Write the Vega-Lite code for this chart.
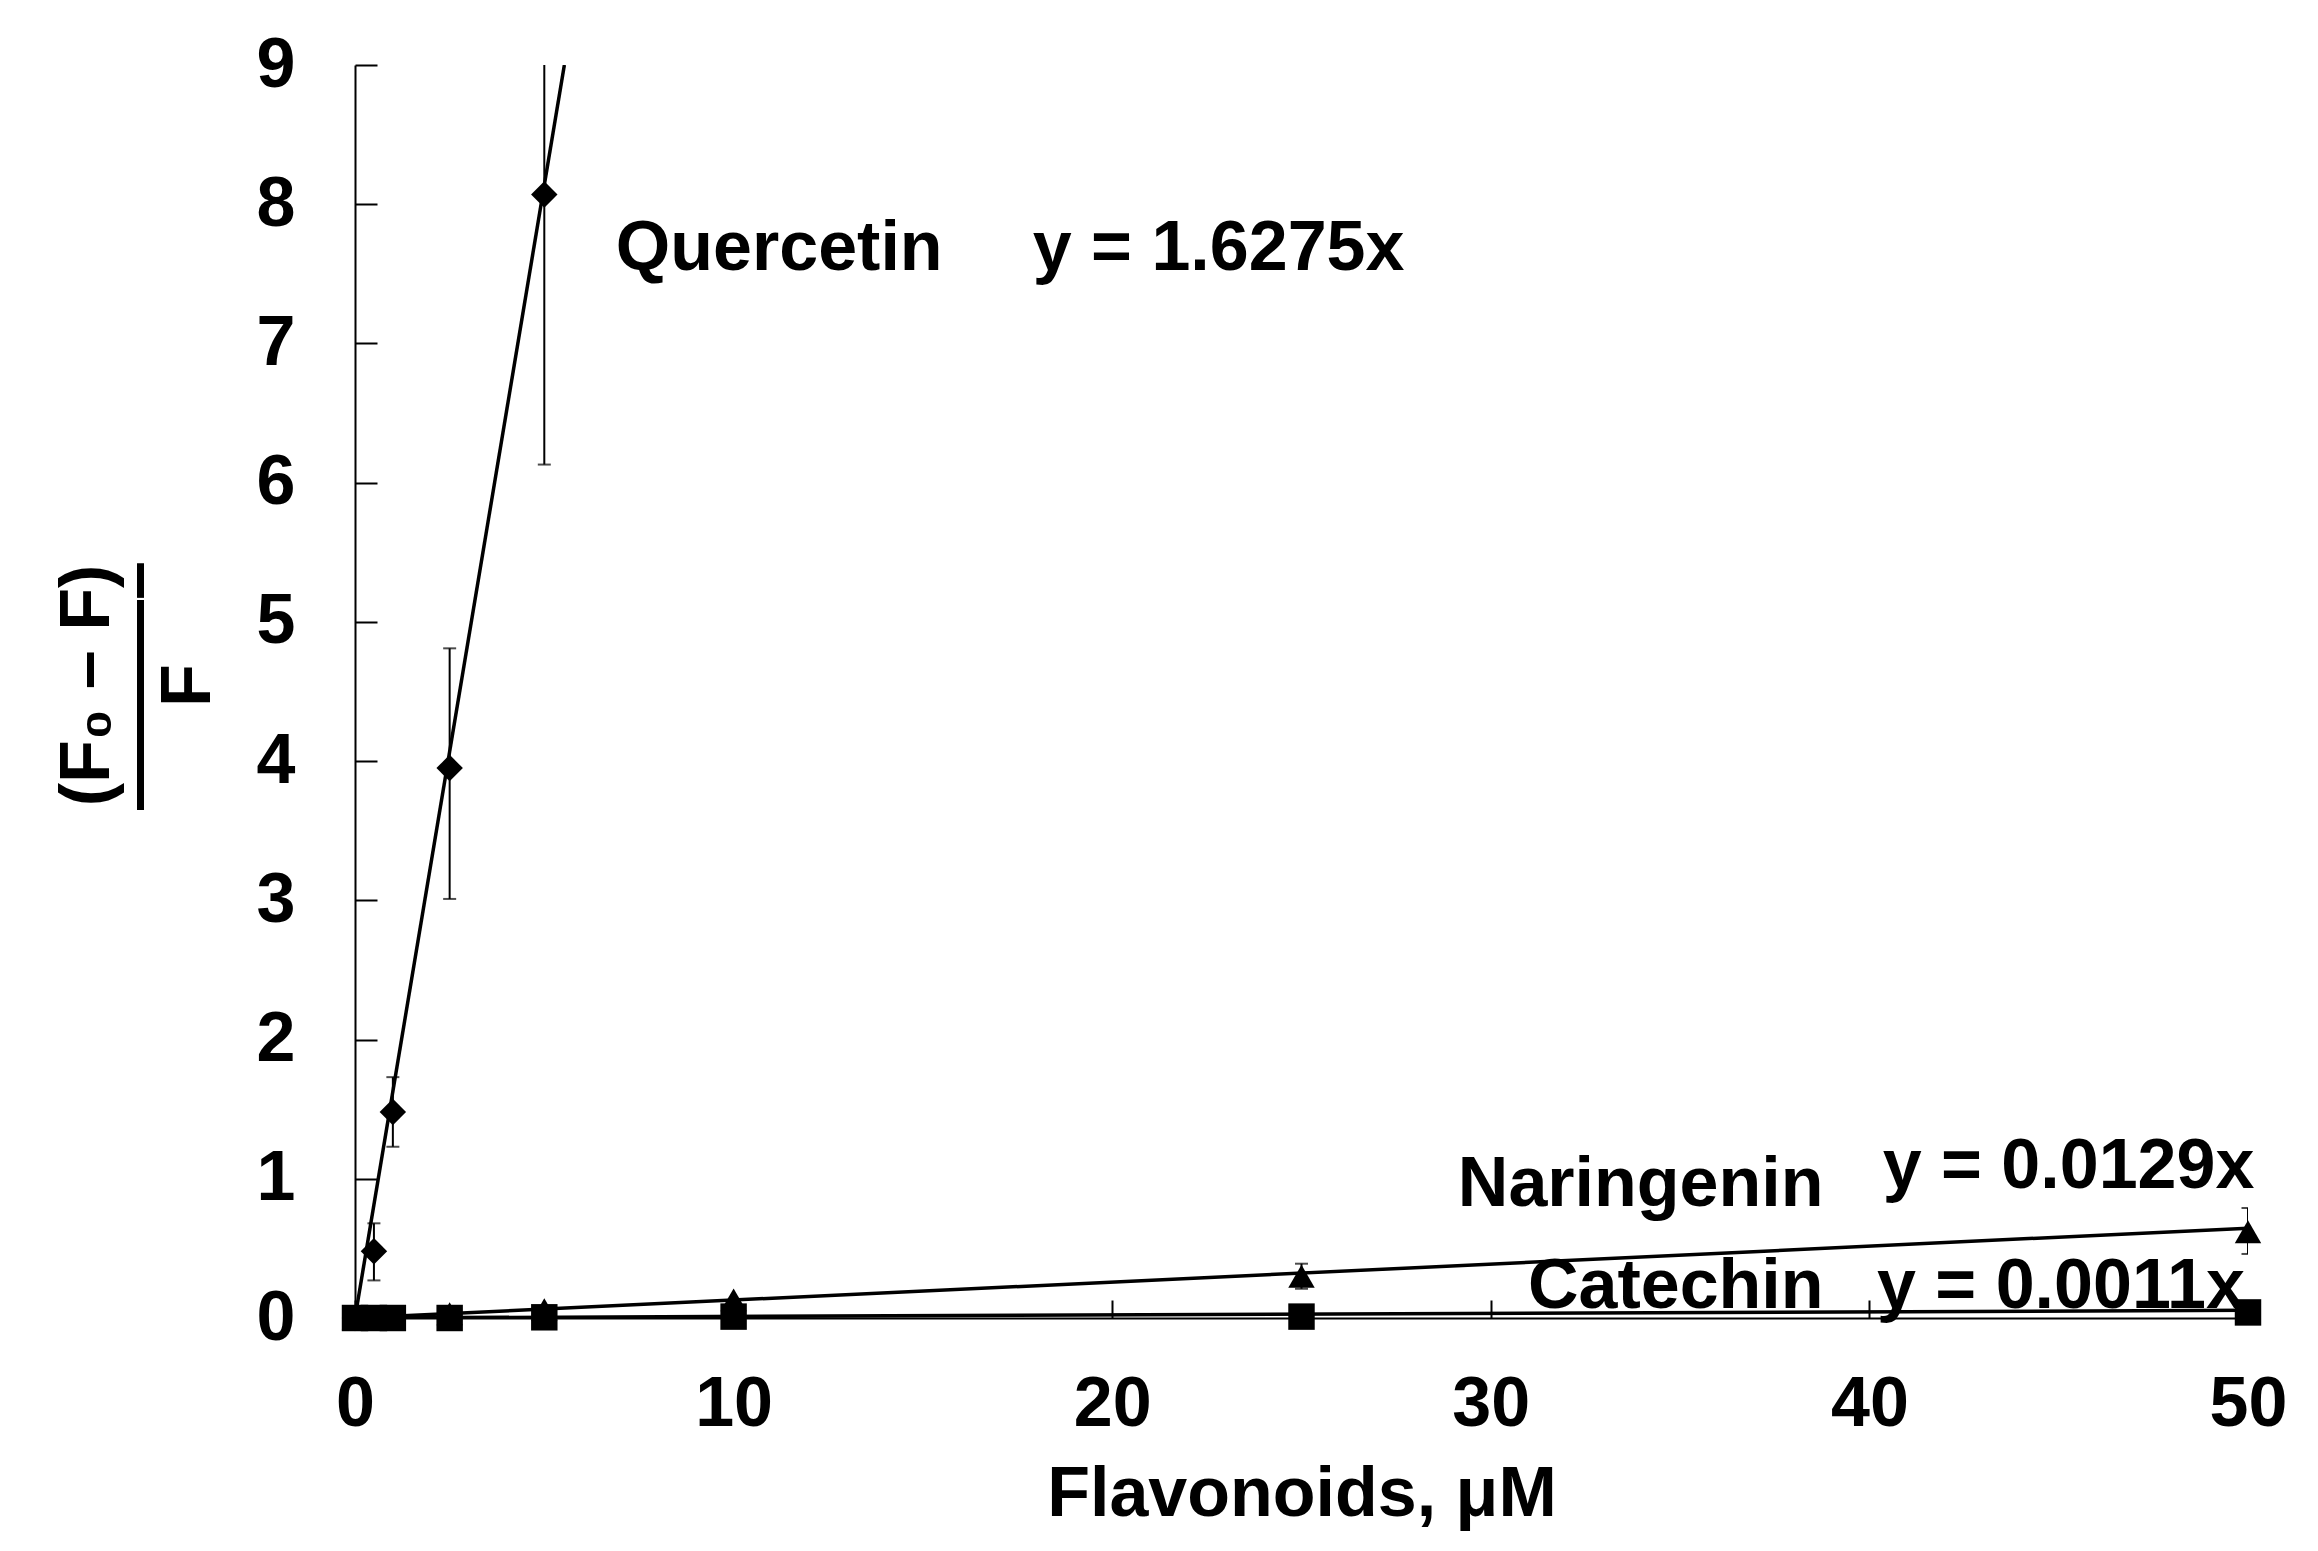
{
  "$schema": "https://vega.github.io/schema/vega-lite/v6.json",
  "width": 1893,
  "height": 1253,
  "autosize": {"type": "none"},
  "padding": {"left": 355, "top": 65, "right": 70, "bottom": 233},
  "background": "white",
  "config": {
    "font": "Liberation Sans",
    "view": {"stroke": null},
    "axis": {
      "grid": false,
      "domainColor": "black",
      "domainWidth": 2,
      "tickColor": "black",
      "tickWidth": 2,
      "labelColor": "black",
      "labelFont": "Liberation Sans",
      "labelFontSize": 70,
      "labelFontWeight": "bold",
      "labelFlush": false,
      "labelOverlap": false,
      "labelBound": false,
      "titleColor": "black",
      "titleFont": "Liberation Sans",
      "titleFontSize": 70,
      "titleFontWeight": "bold"
    }
  },
  "datasets": {
    "fits": [
      {"compound": "Quercetin", "x": 0, "y": 0},
      {"compound": "Quercetin", "x": 5.53, "y": 9.0},
      {"compound": "Naringenin", "x": 0, "y": 0},
      {"compound": "Naringenin", "x": 50, "y": 0.645},
      {"compound": "Catechin", "x": 0, "y": 0},
      {"compound": "Catechin", "x": 50, "y": 0.055}
    ],
    "points": [
      {"compound": "Quercetin", "x": 0, "y": 0},
      {"compound": "Quercetin", "x": 0.5, "y": 0.48, "lo": 0.27, "hi": 0.68},
      {"compound": "Quercetin", "x": 1, "y": 1.48, "lo": 1.23, "hi": 1.73},
      {"compound": "Quercetin", "x": 2.5, "y": 3.95, "lo": 3.01, "hi": 4.81},
      {"compound": "Quercetin", "x": 5, "y": 8.07, "lo": 6.13, "hi": 10.0},
      {"compound": "Naringenin", "x": 0, "y": 0},
      {"compound": "Naringenin", "x": 0.5, "y": 0.005},
      {"compound": "Naringenin", "x": 1, "y": 0.01},
      {"compound": "Naringenin", "x": 2.5, "y": 0.03},
      {"compound": "Naringenin", "x": 5, "y": 0.06},
      {"compound": "Naringenin", "x": 10, "y": 0.13},
      {"compound": "Naringenin", "x": 25, "y": 0.3, "lo": 0.21, "hi": 0.39},
      {"compound": "Naringenin", "x": 50, "y": 0.62, "lo": 0.46, "hi": 0.79},
      {"compound": "Catechin", "x": 0, "y": 0},
      {"compound": "Catechin", "x": 0.5, "y": 0},
      {"compound": "Catechin", "x": 1, "y": 0},
      {"compound": "Catechin", "x": 2.5, "y": 0},
      {"compound": "Catechin", "x": 5, "y": 0.005},
      {"compound": "Catechin", "x": 10, "y": 0.01},
      {"compound": "Catechin", "x": 25, "y": 0.01},
      {"compound": "Catechin", "x": 50, "y": 0.04}
    ],
    "labels": [
      {"text": "Quercetin", "x": 6.89, "y": 7.53},
      {"text": "y = 1.6275x", "x": 17.9, "y": 7.53},
      {"text": "Naringenin", "x": 29.13, "y": 0.805},
      {"text": "y = 0.0129x", "x": 40.35, "y": 0.934},
      {"text": "Catechin", "x": 30.98, "y": 0.072},
      {"text": "y = 0.0011x", "x": 40.2, "y": 0.072}
    ]
  },
  "encoding": {
    "x": {
      "field": "x",
      "type": "quantitative",
      "scale": {"domain": [0, 50], "nice": false},
      "axis": {
        "values": [0, 10, 20, 30, 40, 50],
        "format": "d",
        "tickSize": -18,
        "labelPadding": 70,
        "title": "Flavonoids, μM",
        "titleBaseline": "alphabetic",
        "titleY": 197
      }
    },
    "y": {
      "field": "y",
      "type": "quantitative",
      "scale": {"domain": [0, 9], "nice": false},
      "axis": {
        "values": [0, 1, 2, 3, 4, 5, 6, 7, 8, 9],
        "format": "d",
        "tickSize": -22,
        "labelPadding": 82,
        "title": ["(F₀ – F)", "———–", "F"],
        "titleLineHeight": 50.5,
        "titleBaseline": "bottom",
        "titleAlign": "center",
        "titleX": -232,
        "titleY": 620
      }
    }
  },
  "layer": [
    {
      "data": {"name": "fits"},
      "mark": {"type": "line", "color": "black", "strokeWidth": 3.5, "clip": true},
      "encoding": {
        "detail": {"field": "compound"}
      }
    },
    {
      "data": {"name": "points"},
      "transform": [
        {"filter": "isValid(datum.lo)"},
        {"fold": ["lo", "hi"], "as": ["end", "y"]}
      ],
      "mark": {"type": "line", "color": "black", "strokeWidth": 2, "clip": true},
      "encoding": {
        "detail": [{"field": "compound"}, {"field": "x"}]
      }
    },
    {
      "data": {"name": "points"},
      "transform": [
        {"filter": "isValid(datum.lo)"},
        {"fold": ["lo", "hi"], "as": ["end", "y"]}
      ],
      "mark": {"type": "tick", "orient": "horizontal", "color": "black", "size": 13, "thickness": 2, "clip": true},
      "encoding": {}
    },
    {
      "data": {"name": "points"},
      "mark": {"type": "point", "filled": true, "color": "black", "opacity": 1, "size": 700},
      "encoding": {
        "shape": {
          "field": "compound",
          "type": "nominal",
          "scale": {"domain": ["Quercetin", "Naringenin", "Catechin"], "range": ["diamond", "triangle-up", "square"]},
          "legend": null
        }
      }
    },
    {
      "data": {"name": "labels"},
      "mark": {"type": "text", "font": "Liberation Sans", "fontSize": 70, "fontWeight": "bold", "align": "left", "baseline": "alphabetic", "color": "black"},
      "encoding": {
        "text": {"field": "text"}
      }
    }
  ]
}
